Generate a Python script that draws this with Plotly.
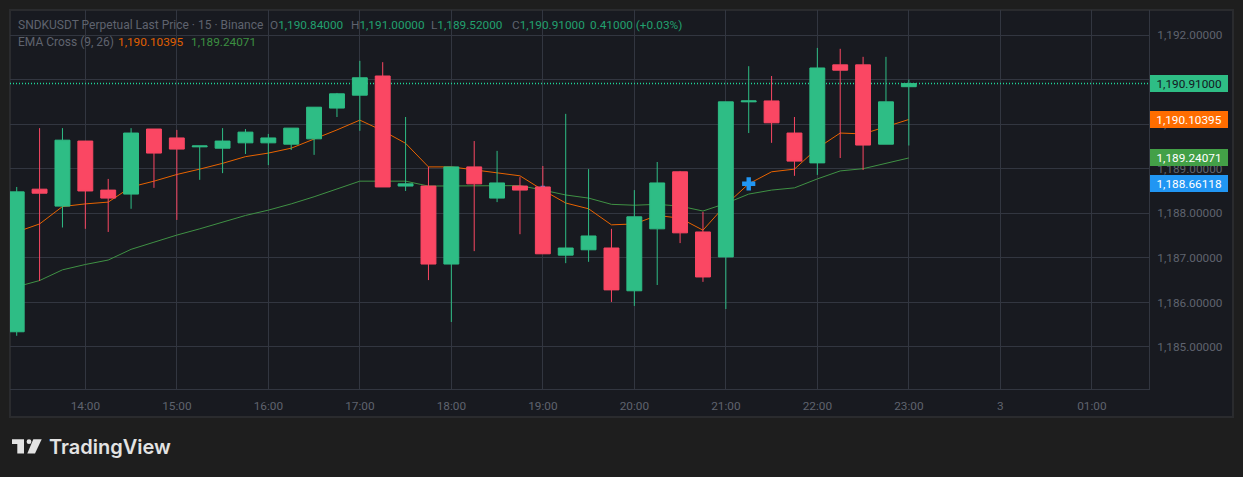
import plotly.graph_objects as go

day1 = "2026-03-02 "
day2 = "2026-03-03 "

times = ["13:15", "13:30", "13:45", "14:00", "14:15", "14:30", "14:45", "15:00", "15:15", "15:30",
         "15:45", "16:00", "16:15", "16:30", "16:45", "17:00", "17:15", "17:30", "17:45", "18:00",
         "18:15", "18:30", "18:45", "19:00", "19:15", "19:30", "19:45", "20:00", "20:15", "20:30",
         "20:45", "21:00", "21:15", "21:30", "21:45", "22:00", "22:15", "22:30", "22:45", "23:00"]

opens = [1185.34, 1188.54, 1188.16, 1189.62, 1188.52, 1188.43, 1189.89, 1189.69, 1189.49, 1189.46,
         1189.58, 1189.58, 1189.55, 1189.67, 1190.36, 1190.65, 1191.08, 1188.61, 1188.61, 1186.86,
         1189.04, 1188.34, 1188.61, 1188.59, 1187.06, 1187.18, 1187.22, 1186.26, 1187.65, 1188.93,
         1187.58, 1187.02, 1190.50, 1190.52, 1189.80, 1189.13, 1191.33, 1191.33, 1189.55, 1190.84]
highs = [1188.59, 1189.91, 1189.91, 1189.62, 1188.77, 1189.91, 1189.89, 1189.87, 1189.51, 1189.91,
         1189.89, 1189.78, 1189.91, 1190.38, 1190.70, 1191.42, 1191.39, 1190.16, 1189.04, 1189.04,
         1189.62, 1189.40, 1188.81, 1189.06, 1190.23, 1188.99, 1187.65, 1188.52, 1189.15, 1188.95,
         1188.03, 1190.50, 1191.30, 1191.08, 1190.16, 1191.71, 1191.69, 1191.51, 1191.51, 1191.00]
lows = [1185.25, 1186.48, 1187.68, 1187.65, 1187.58, 1188.10, 1188.57, 1187.85, 1188.75, 1188.90,
        1189.33, 1189.08, 1189.42, 1189.31, 1190.16, 1189.85, 1188.59, 1188.50, 1186.50, 1185.56,
        1187.15, 1188.25, 1187.53, 1187.09, 1186.88, 1186.91, 1186.01, 1185.92, 1186.39, 1187.33,
        1186.46, 1185.85, 1189.80, 1189.58, 1188.84, 1188.86, 1189.24, 1188.97, 1189.55, 1189.52]
closes = [1188.48, 1188.45, 1189.64, 1188.50, 1188.34, 1189.80, 1189.35, 1189.44, 1189.51, 1189.62,
          1189.82, 1189.69, 1189.91, 1190.38, 1190.68, 1191.04, 1188.59, 1188.66, 1186.86, 1189.04,
          1188.66, 1188.68, 1188.52, 1187.09, 1187.22, 1187.49, 1186.28, 1187.92, 1188.68, 1187.56,
          1186.57, 1190.50, 1190.52, 1190.03, 1189.17, 1191.26, 1191.21, 1189.53, 1190.50, 1190.91]

ema9 = [1187.58, 1187.76, 1188.15, 1188.21, 1188.25, 1188.59, 1188.72, 1188.87, 1188.99, 1189.12,
        1189.27, 1189.35, 1189.46, 1189.66, 1189.87, 1190.09, 1189.85, 1189.57, 1189.04, 1189.04,
        1188.97, 1188.90, 1188.84, 1188.52, 1188.23, 1188.10, 1187.74, 1187.76, 1187.95, 1187.89,
        1187.62, 1188.19, 1188.66, 1188.93, 1188.99, 1189.46, 1189.80, 1189.78, 1189.94, 1190.10395]
ema26 = [1186.35, 1186.49, 1186.73, 1186.85, 1186.95, 1187.19, 1187.35, 1187.51, 1187.65, 1187.80,
         1187.95, 1188.07, 1188.21, 1188.37, 1188.54, 1188.72, 1188.72, 1188.72, 1188.61, 1188.61,
         1188.62, 1188.62, 1188.62, 1188.52, 1188.41, 1188.34, 1188.20, 1188.18, 1188.20, 1188.16,
         1188.05, 1188.22, 1188.43, 1188.52, 1188.57, 1188.77, 1188.95, 1189.00, 1189.12, 1189.24071]

cross_times = ["19:00", "21:15"]
cross_prices = [1188.47, 1188.66118]

price_ticks = [1192, 1191, 1190, 1189, 1188, 1187, 1186, 1185]
time_ticks = [day1 + t for t in ["14:00", "15:00", "16:00", "17:00", "18:00", "19:00", "20:00", "21:00", "22:00", "23:00"]]
time_ticks += [day2 + "00:00", day2 + "01:00"]
time_labels = ["14:00", "15:00", "16:00", "17:00", "18:00", "19:00", "20:00", "21:00", "22:00", "23:00", "3", "01:00"]

GREEN = "#2ebd85"
RED = "#fa4763"
ORANGE = "#ff6d00"
EMA_GREEN = "#43a047"
BLUE = "#2196f3"
GRID = "#323640"
BG = "#181a20"
PAGE = "#1e1e1e"
MUTED = "#5f636e"
FONT = "Roboto"
NUM_SIZE = 11.8

W, H = 1243, 477
L, R, T, B = 10, 1149, 10, 389
X_RANGE = [day1 + "13:10:36", day2 + "01:37:29"]
Y_RANGE = [1184.056, 1192.561]


def px(x):
    return (x - L) / (R - L)


def py(y):
    return (B - y) / (B - T)


x = [day1 + t for t in times]

fig = go.Figure()
# last price line, as a trace so it stays under the candles
fig.add_trace(go.Scatter(x=X_RANGE, y=[closes[-1], closes[-1]], mode="lines",
                         line=dict(color="#1fd699", width=1.4, dash="1px,2px"), hoverinfo="skip"))
fig.add_trace(go.Scatter(x=x, y=ema9, mode="lines", line=dict(color="#e86300", width=1), hoverinfo="skip"))
fig.add_trace(go.Scatter(x=x, y=ema26, mode="lines", line=dict(color="#3f9144", width=1), hoverinfo="skip"))
fig.add_trace(go.Scatter(x=[day1 + t for t in cross_times], y=cross_prices, mode="markers",
                         marker=dict(symbol="cross", size=11, color=BLUE, line=dict(width=0)), hoverinfo="skip"))
# candles on an overlay axis pair, otherwise plotly draws the lines over them
fig.add_trace(go.Candlestick(x=x, open=opens, high=highs, low=lows, close=closes, xaxis="x2", yaxis="y2",
                             increasing=dict(line=dict(color=GREEN, width=1), fillcolor=GREEN),
                             decreasing=dict(line=dict(color=RED, width=1), fillcolor=RED)))

shapes = [
    dict(type="rect", xref="paper", yref="paper", x0=px(10), x1=px(1233), y0=py(10), y1=py(417),
         fillcolor=BG, line=dict(color="#2a2b2e", width=2), layer="below"),
]


def logo_path(pts):
    return "M" + " L".join(f"{px(a)},{py(b)}" for a, b in pts) + " Z"


# TradingView mark
shapes.append(dict(type="path", xref="paper", yref="paper", fillcolor="#e3e3e3", line=dict(width=0),
                   path=logo_path([(12, 439.3), (24, 439.3), (24, 453.5), (17.3, 453.5), (17.3, 444), (12, 444)])))
shapes.append(dict(type="path", xref="paper", yref="paper", fillcolor="#e3e3e3", line=dict(width=0),
                   path=logo_path([(33.3, 439.3), (41.7, 439.3), (35, 453.5), (27.3, 453.5)])))
shapes.append(dict(type="circle", xref="paper", yref="paper", fillcolor="#e3e3e3", line=dict(width=0),
                   x0=px(26.6), x1=px(31.4), y0=py(439.3), y1=py(444.1)))

annotations = []


def note(xp, yp, text, color=MUTED, size=12):
    annotations.append(dict(xref="paper", yref="paper", x=px(xp - 2), y=py(yp), text=text, showarrow=False,
                            xanchor="left", yanchor="middle", font=dict(family=FONT, size=size, color=color)))


def fmt(v):
    return f"{v:,.5f}"


note(18, 25, "SNDKUSDT Perpetual Last Price · 15 · Binance")
for xp, letter, val in [(270, "O", opens[-1]), (351, "H", highs[-1]), (431, "L", lows[-1]), (512, "C", closes[-1])]:
    note(xp, 25, f'{letter}<span style="color:#22a06f">{fmt(val)}</span>', size=NUM_SIZE)
note(590, 25, "0.41000 (+0.03%)", "#22a06f", size=NUM_SIZE)
note(18, 42, "EMA Cross (9, 26)")
note(118, 42, fmt(ema9[-1]), "#e06000", size=NUM_SIZE)
note(191, 42, fmt(ema26[-1]), "#3c8f41", size=NUM_SIZE)

for val, bg, fg in [(closes[-1], GREEN, "#131722"), (ema9[-1], ORANGE, "#ffffff"),
                    (ema26[-1], EMA_GREEN, "#ffffff"), (cross_prices[-1], BLUE, "#ffffff")]:
    annotations.append(dict(xref="paper", yref="y", x=px(1150), y=val, text=fmt(val), showarrow=False,
                            xanchor="left", yanchor="middle", width=78, height=17, align="center",
                            bgcolor=bg, borderpad=0, borderwidth=0,
                            font=dict(family=FONT, size=NUM_SIZE, color=fg)))

annotations.append(dict(xref="paper", yref="paper", x=px(47), y=py(447), text="TradingView", showarrow=False,
                        xanchor="left", yanchor="middle",
                        font=dict(family="Inter", size=20, weight=600, color="#e3e3e3")))

fig.update_layout(
    width=W, height=H,
    margin=dict(l=L, r=W - R, t=T, b=H - B),
    paper_bgcolor=PAGE,
    plot_bgcolor=BG,
    showlegend=False,
    boxgap=0.07,
    shapes=shapes,
    annotations=annotations,
    font=dict(family=FONT, size=12, color=MUTED),
    xaxis2=dict(type="date", overlaying="x", range=X_RANGE, visible=False, rangeslider=dict(visible=False)),
    yaxis2=dict(overlaying="y", range=Y_RANGE, visible=False, side="right"),
)
fig.update_xaxes(
    type="date",
    range=X_RANGE,
    rangeslider=dict(visible=False),
    tickvals=time_ticks, ticktext=time_labels, tickangle=0,
    showgrid=True, gridcolor=GRID, gridwidth=1,
    showline=True, linecolor=GRID, linewidth=1,
    zeroline=False, ticks="", ticklabelstandoff=6,
    tickfont=dict(family=FONT, size=NUM_SIZE, color=MUTED),
    selector=dict(overlaying=None),
)
fig.update_yaxes(
    range=Y_RANGE,
    side="right",
    tickvals=price_ticks, tickformat=",.5f",
    showgrid=True, gridcolor=GRID, gridwidth=1,
    showline=True, linecolor=GRID, linewidth=1,
    zeroline=False, ticks="", ticklabelstandoff=5,
    tickfont=dict(family=FONT, size=NUM_SIZE, color=MUTED),
    selector=dict(overlaying=None),
)

fig.write_html("out.html", config={"displayModeBar": False},
               post_script="document.body.style.margin='0';document.body.style.background='#1e1e1e';")
